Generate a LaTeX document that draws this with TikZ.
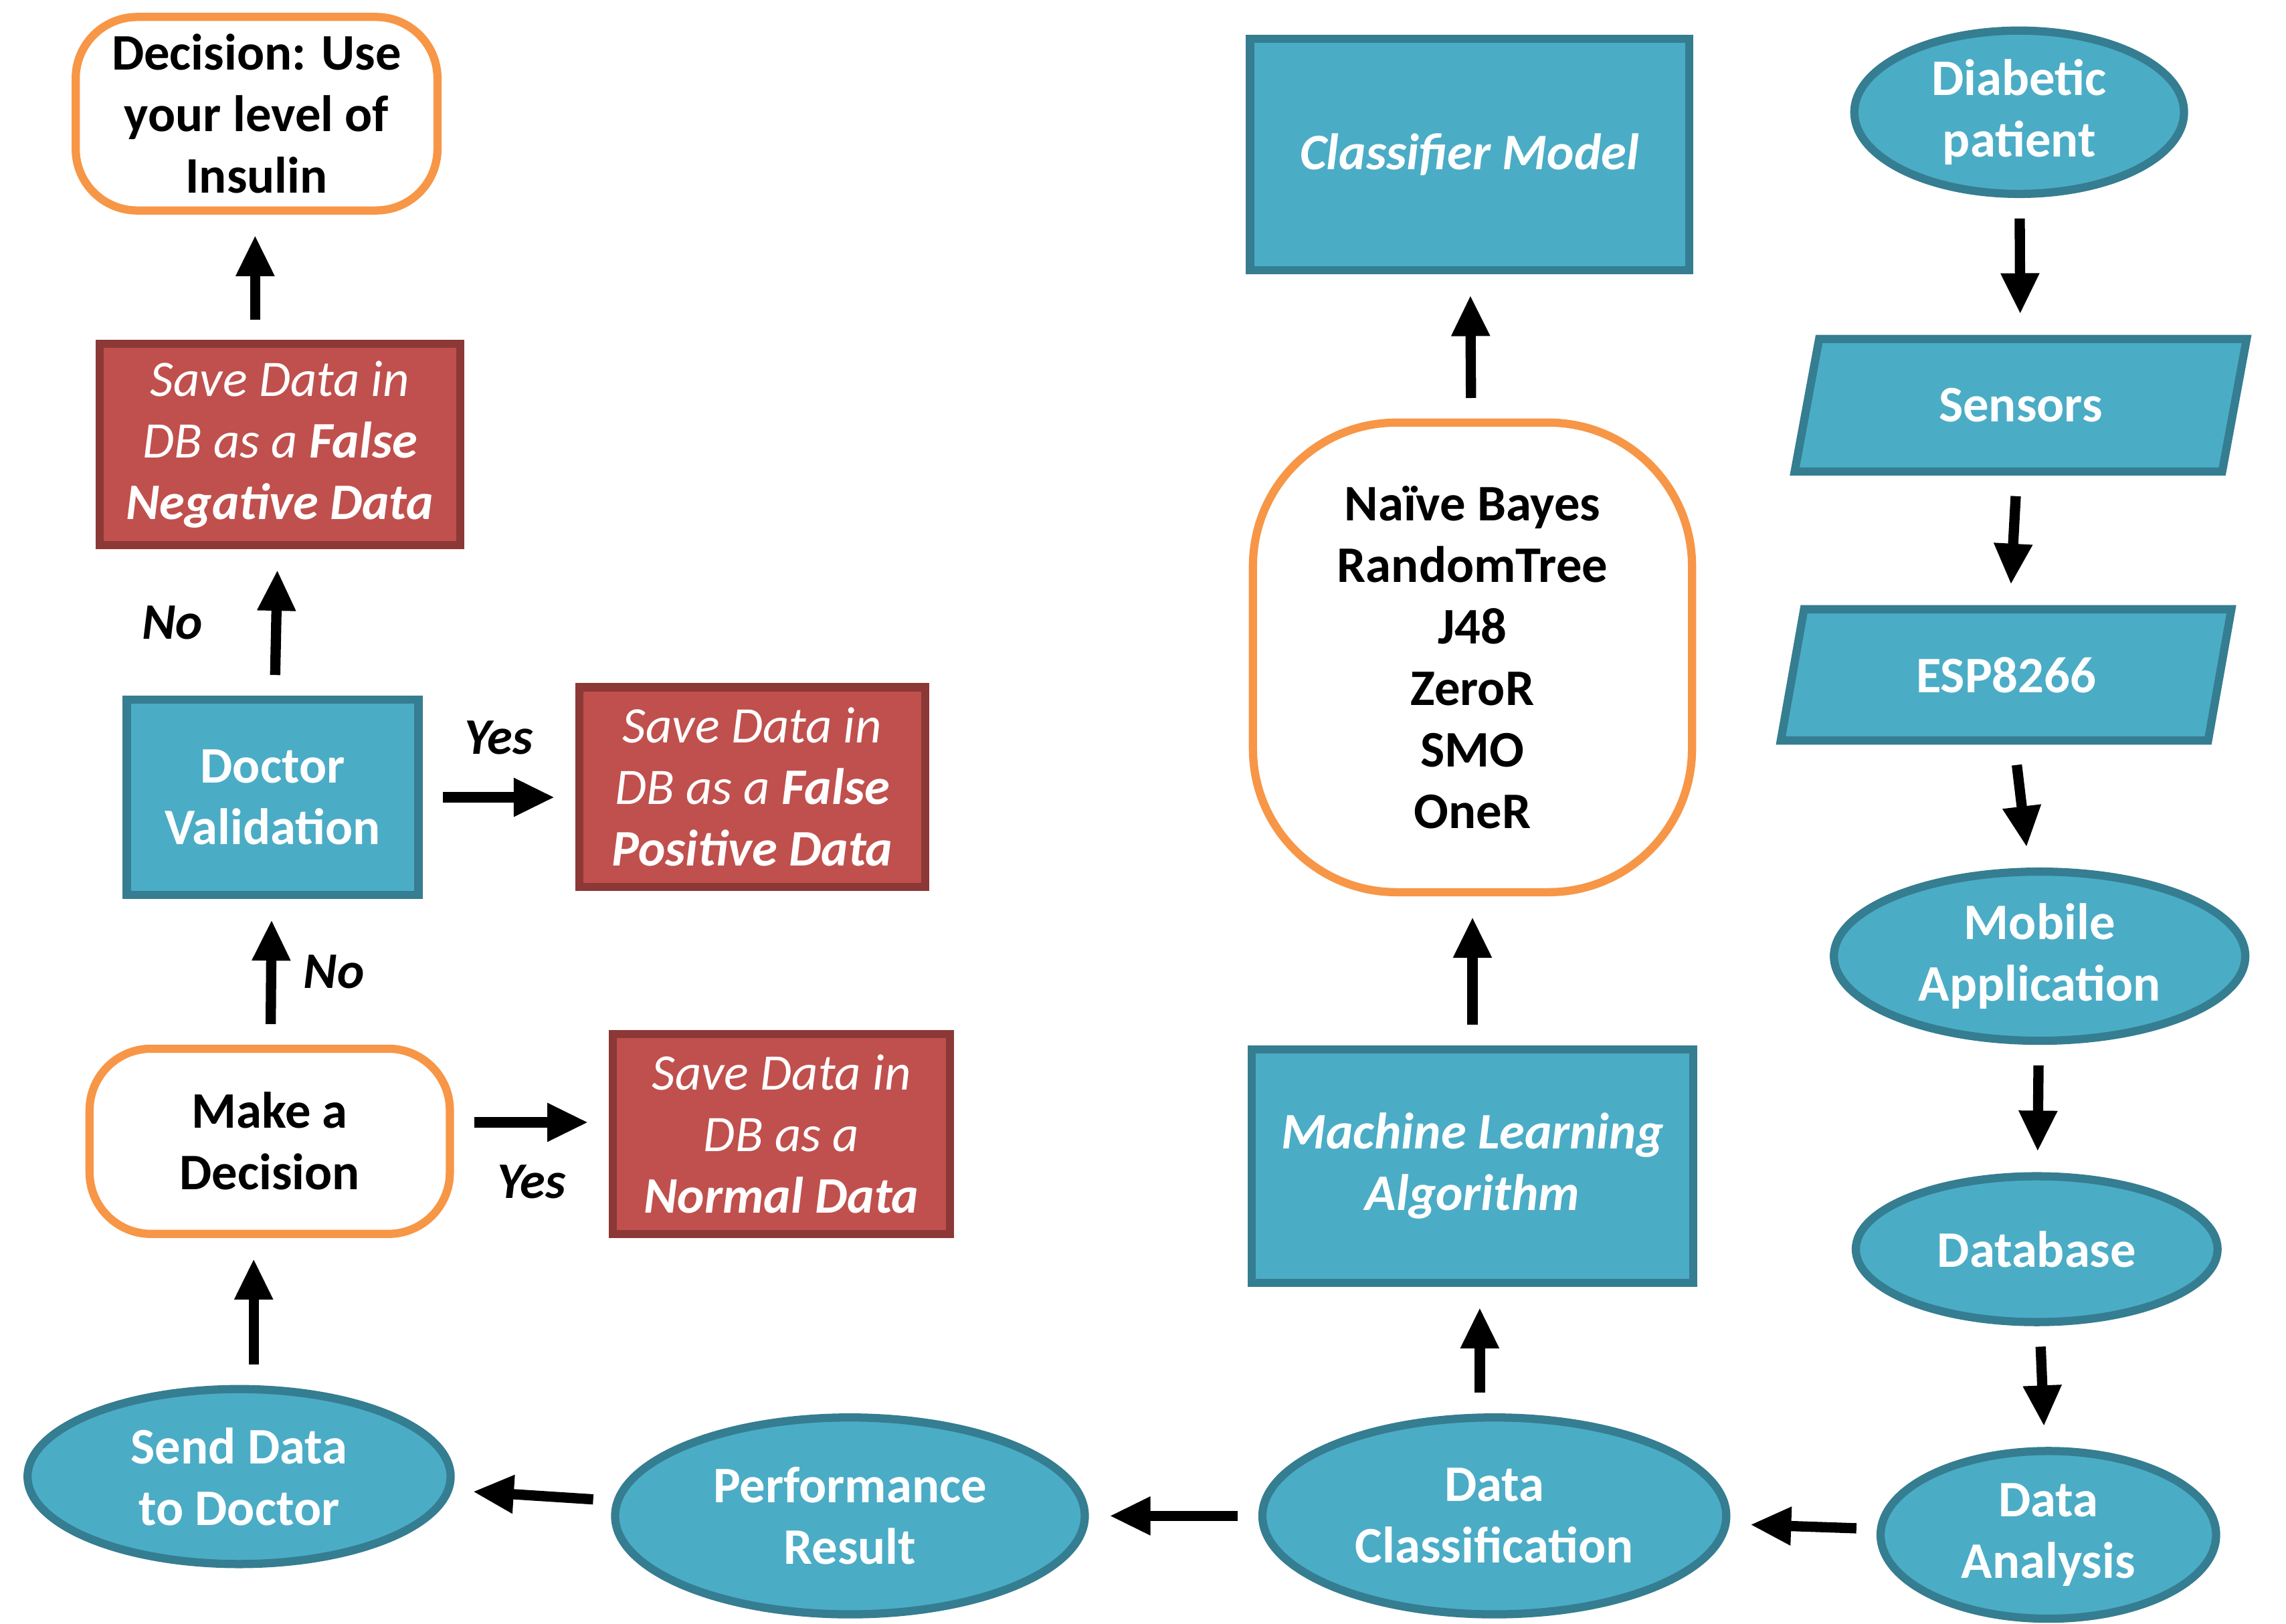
\documentclass[tikz,border=0pt]{standalone}
\usepackage{fontspec}
\setmainfont{Carlito}
\usetikzlibrary{shapes.geometric,arrows.meta}
\definecolor{tealF}{HTML}{4BACC6}
\definecolor{tealD}{HTML}{357D91}
\definecolor{redF}{HTML}{C0504D}
\definecolor{redD}{HTML}{8C3836}
\definecolor{orgD}{HTML}{F79646}
\tikzset{
    TB/.style ={rectangle,draw=tealD,line width=1.6pt,fill=tealF,text=white,align=center,font=\bfseries},
    TE/.style ={ellipse,draw=tealD,line width=1.6pt,fill=tealF,text=white,align=center,font=\bfseries,inner sep=0pt},
    TP/.style ={trapezium,trapezium left angle=80,trapezium right angle=100,trapezium stretches=true,draw=tealD,line width=1.6pt,fill=tealF,text=white,font=\bfseries},
    RB/.style ={rectangle,draw=redD,line width=1.6pt,fill=redF,text=white,align=center,font=\itshape},
    OB/.style ={rectangle,rounded corners=12pt,draw=orgD,line width=1.6pt,fill=white,align=center,font=\bfseries},
    AR/.style ={-{Triangle[length=8pt,width=7pt]},line width=2pt,shorten >=4pt,shorten <=4pt},
    LB/.style ={font=\bfseries\itshape}
}
\begin{document}
\begin{tikzpicture}[x=0.01cm,y=-0.01cm,every node/.append style={font=\fontsize{10.5}{12.3}\selectfont}]
    \useasboundingbox (0,0) rectangle (1568,1114);
    % left column
    \node[OB,minimum width=2.48cm,minimum height=1.27cm] (dec) at (176,78) {\bfseries Decision: Use\\\bfseries your level of\\\bfseries Insulin};
    \node[RB,minimum width=2.47cm,minimum height=1.36cm] (fn) at (192,305) {\itshape Save Data in\\\itshape DB as a \bfseries False\\\bfseries\itshape Negative Data};
    \node[TB,minimum width=2cm,minimum height=1.34cm] (doc) at (187,547) {\bfseries Doctor\\\bfseries Validation};
    \node[RB,minimum width=2.37cm,minimum height=1.37cm] (fp) at (516,540) {\itshape Save Data in\\\itshape DB as a \bfseries False\\\bfseries\itshape Positive Data};
    \node[OB,minimum width=2.47cm,minimum height=1.27cm] (mk) at (185,783) {\bfseries Make a\\\bfseries Decision};
    \node[RB,minimum width=2.31cm,minimum height=1.37cm] (nd) at (536,778) {\itshape Save Data in\\\itshape DB as a\\\bfseries\itshape Normal Data};
    % bottom row
    \node[TE,minimum width=2.9cm,minimum height=1.2cm] (snd) at (164,1013) {\bfseries Send Data\\\bfseries to Doctor};
    \node[TE,minimum width=3.22cm,minimum height=1.35cm] (perf) at (583,1040) {\bfseries Performance\\\bfseries Result};
    \node[TE,minimum width=3.18cm,minimum height=1.35cm] (dcl) at (1025,1040) {\bfseries Data\\\bfseries Classification};
    \node[TE,minimum width=2.3cm,minimum height=1.15cm] (dan) at (1405,1053) {\bfseries Data\\\bfseries Analysis};
    % right column
    \node[TE,minimum width=2.26cm,minimum height=1.12cm] (pat) at (1385,77) {\bfseries Diabetic\\\bfseries patient};
    \node[TP,minimum width=3.1cm,minimum height=0.91cm] (sen) at (1386,278) {Sensors};
    \node[TP,minimum width=3.1cm,minimum height=0.9cm] (esp) at (1376,463) {ESP8266};
    \node[TE,minimum width=2.82cm,minimum height=1.16cm] (mob) at (1399,656) {\bfseries Mobile\\\bfseries Application};
    \node[TE,minimum width=2.48cm,minimum height=1cm] (db) at (1397,857) {Database};
    % middle column
    \node[TB,minimum width=3.01cm,minimum height=1.59cm,font=\bfseries\itshape] (cls) at (1008,106) {Classifier Model};
    \node[OB,rounded corners=28pt,minimum width=3.01cm,minimum height=3.22cm] (alg) at (1010,451) {\bfseries Naïve Bayes\\\bfseries RandomTree\\\bfseries J48\\\bfseries ZeroR\\\bfseries SMO\\\bfseries OneR};
    \node[TB,minimum width=3.03cm,minimum height=1.6cm] (ml) at (1010,800) {\bfseries\itshape Machine Learning\\\bfseries\itshape Algorithm};
    % arrows
    \draw[AR] (pat) -- (sen);
    \draw[AR] (sen) -- (esp);
    \draw[AR] (esp) -- (mob);
    \draw[AR] (mob) -- (db);
    \draw[AR] (db) -- (dan);
    \draw[AR] (dan) -- (dcl);
    \draw[AR] (dcl) -- (perf);
    \draw[AR] (perf) -- (snd);
    \draw[AR] (dcl.north) ++(-10,0) coordinate (c1) (c1) -- (c1 |- ml.south);
    \draw[AR] (ml) -- (alg);
    \draw[AR] (alg) -- (cls);
    \draw[AR] (snd.north) ++(10,0) coordinate (c2) (c2) -- (c2 |- mk.south);
    \draw[AR] (mk) -- node[LB,right=2pt] {No} (doc);
    \draw[AR] (doc) -- node[LB,left=10pt] {No} (fn);
    \draw[AR] (fn.north) ++(-17,0) coordinate (c3) (c3) -- (c3 |- dec.south);
    \draw[AR] (doc.east) coordinate (c4) (c4) -- node[LB,above=4pt] {Yes} (c4 -| fp.west);
    \draw[AR] (mk.east) ++(0,-13) coordinate (c5) (c5) -- node[LB,below=4pt] {Yes} (c5 -| nd.west);
\end{tikzpicture}
\end{document}
